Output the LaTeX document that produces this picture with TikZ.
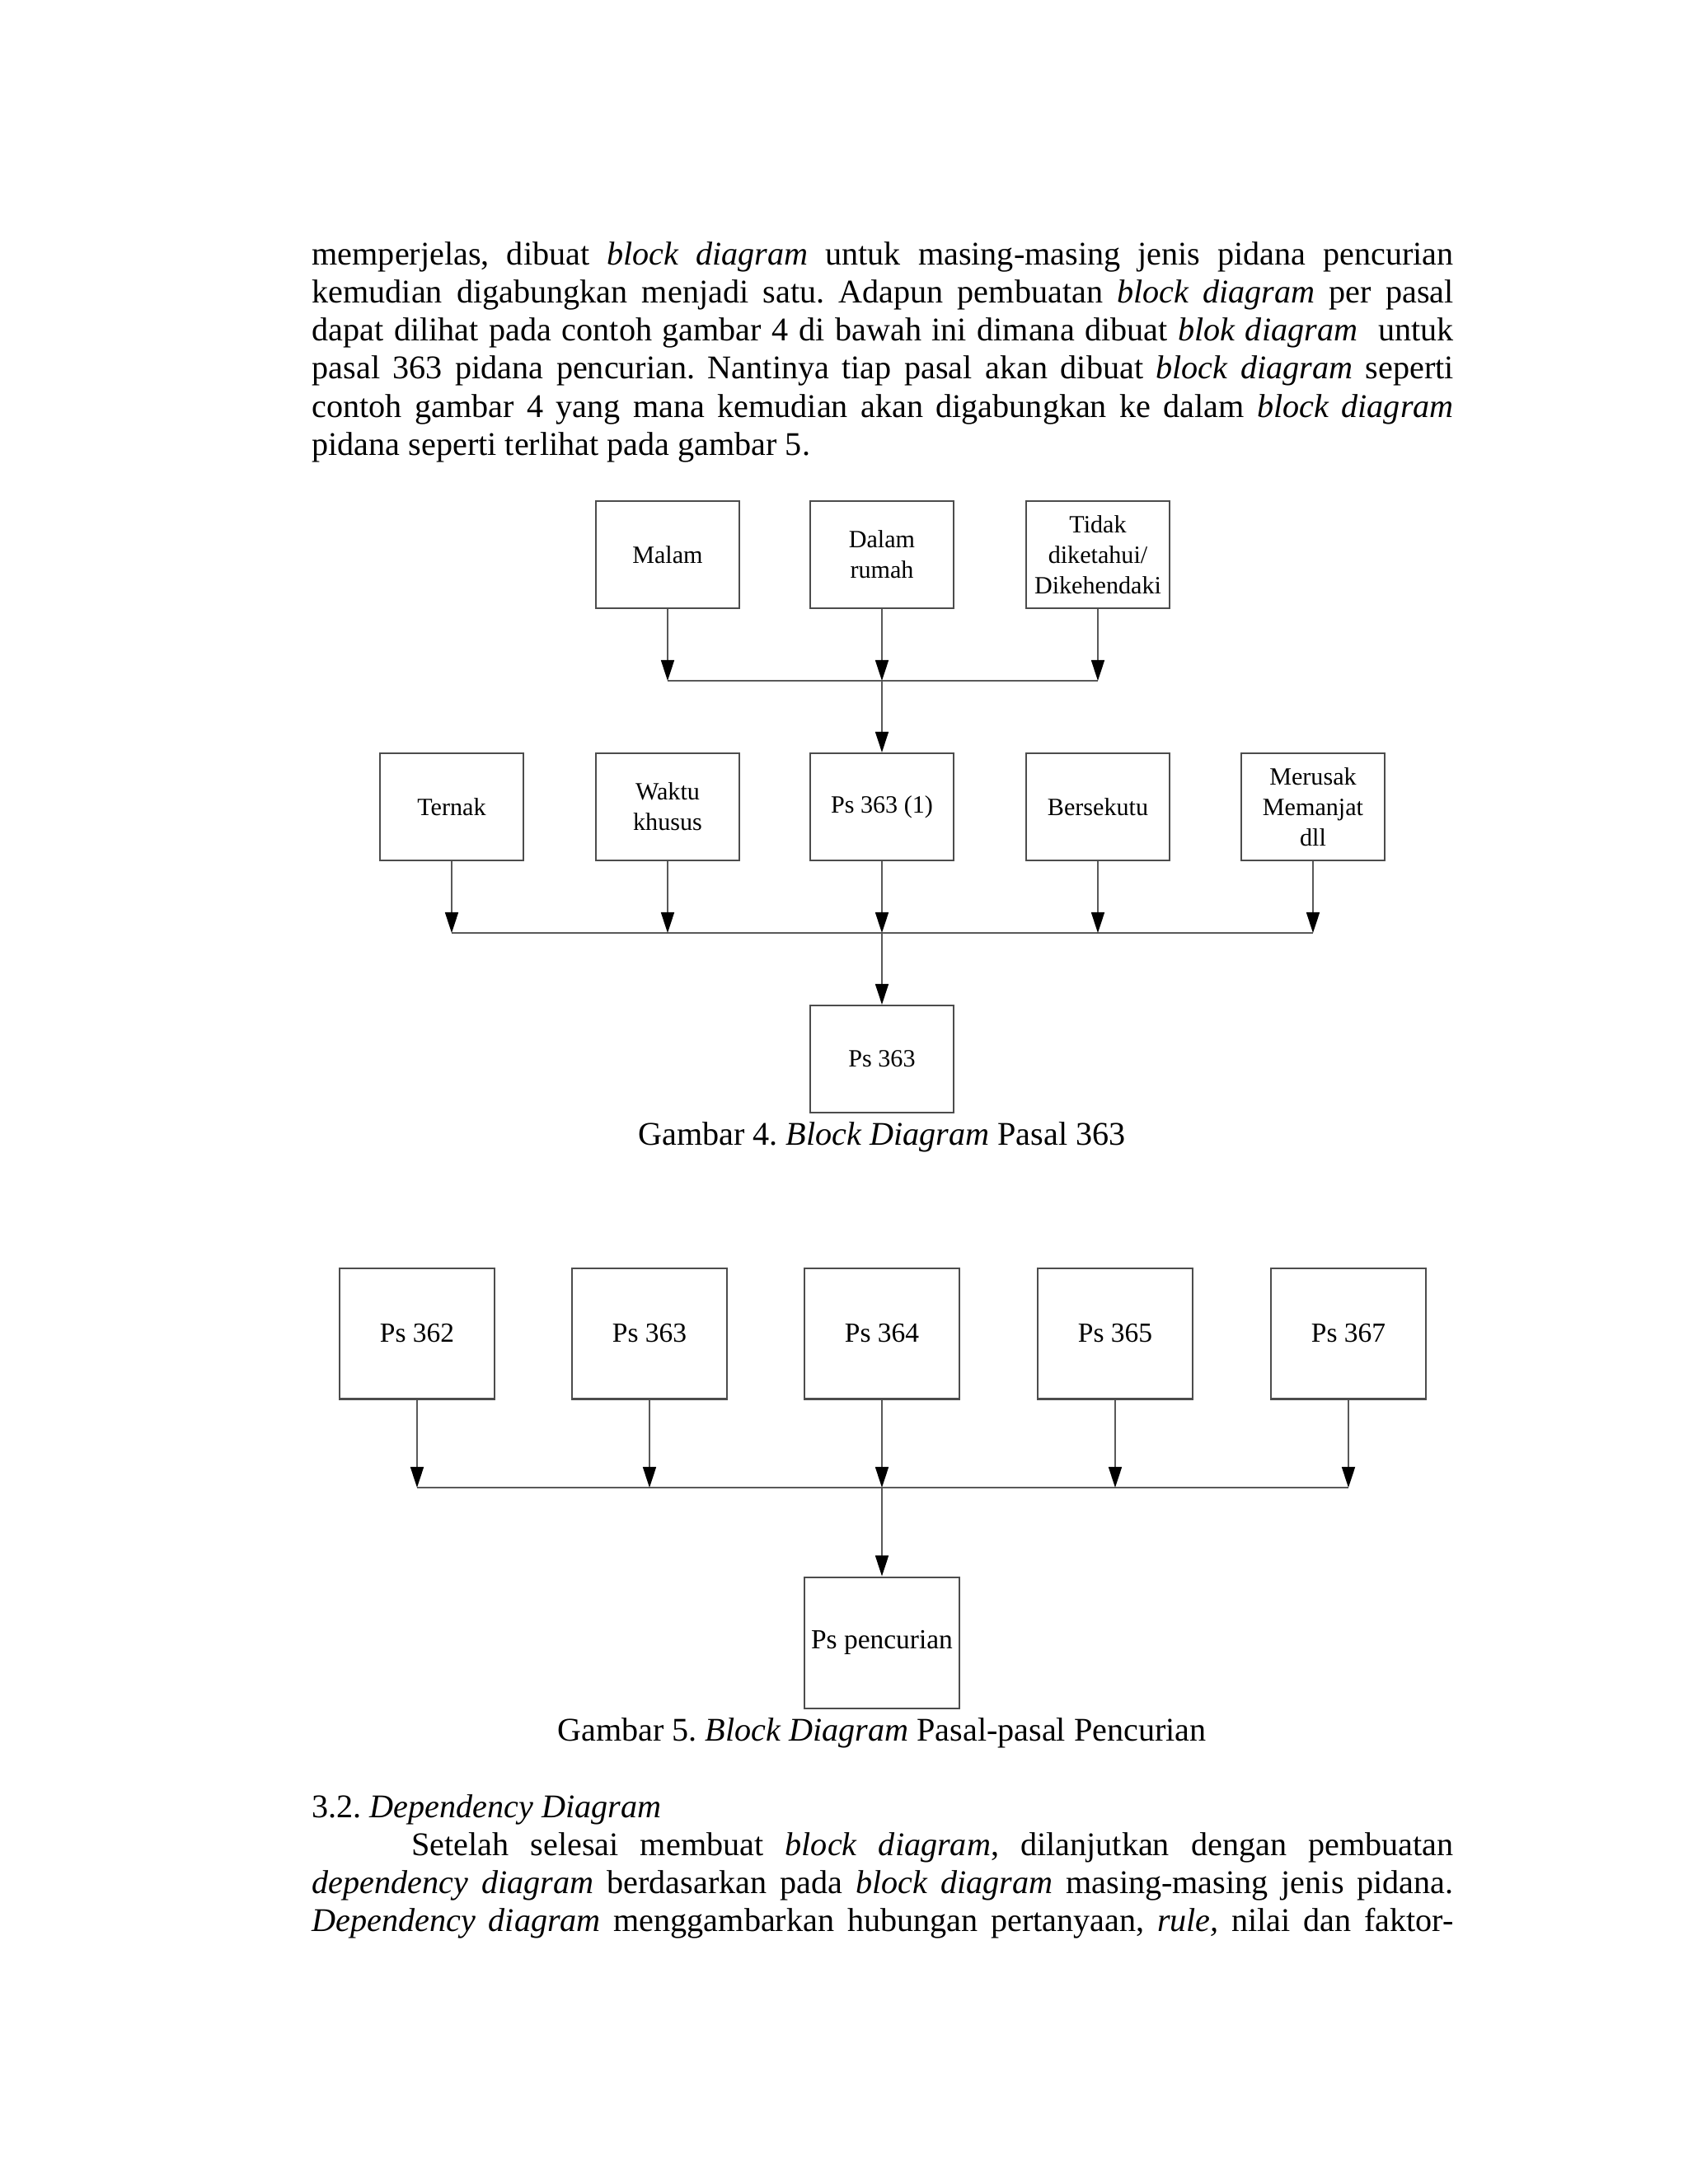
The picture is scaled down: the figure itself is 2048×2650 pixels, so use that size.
\documentclass[tikz,border=0pt]{standalone}
\usepackage{fontspec}
\setmainfont{Liberation Serif}
\usetikzlibrary{arrows.meta}
\frenchspacing

\begin{document}
\begin{tikzpicture}[x=0.29883pt, y=-0.29883pt]
    \tikzstyle{blok}=[rectangle, draw=black!70, line width=0.6pt, fill=white,
                      inner sep=1pt, align=center,
                      minimum width=52pt, minimum height=38.9pt,
                      font=\fontsize{9}{11}\selectfont]
    \tikzstyle{blokbesar}=[blok, minimum width=56.2pt, minimum height=47.5pt,
                      font=\fontsize{10}{12}\selectfont]
    \tikzstyle{teks}=[inner sep=0pt, text width=413.9pt, align=justify,
                      font=\fontsize{12}{13.84}\selectfont]
    \tikzstyle{keterangan}=[inner sep=0pt, font=\fontsize{12}{14}\selectfont]
    \tikzstyle{panah}=[draw=black!65, line width=0.45pt,
                       -{Triangle[length=7.5pt, width=4.8pt, color=black, fill=black]}]
    \tikzstyle{garis}=[draw=black!65, line width=0.45pt]

    \useasboundingbox (0,0) rectangle (2048,2650);

    % paragraf atas
    \node[teks, anchor=base west] (para1) at (378,321) {\tolerance=10000\hyphenpenalty=10000
        memperjelas, dibuat \emph{block diagram} untuk masing-masing jenis pidana pencurian\linebreak
        kemudian digabungkan menjadi satu. Adapun pembuatan \emph{block diagram} per pasal\linebreak
        dapat dilihat pada contoh gambar 4 di bawah ini dimana dibuat \emph{blok diagram}\ \ untuk\linebreak
        pasal 363 pidana pencurian. Nantinya tiap pasal akan dibuat \emph{block diagram} seperti\linebreak
        contoh gambar 4 yang mana kemudian akan digabungkan ke dalam \emph{block diagram}\linebreak
        pidana seperti terlihat pada gambar 5.};

    % gambar 4
    \node[blok] (malam) at (810,673) {Malam};
    \node[blok] (rumah) at (1070,673) {Dalam\\rumah};
    \node[blok] (tidak) at (1332,673) {Tidak\\diketahui/\\Dikehendaki};
    \coordinate (bus1) at (1070,826);

    \node[blok] (ternak) at (548,979) {Ternak};
    \node[blok] (waktu) at (810,979) {Waktu\\khusus};
    \node[blok] (ps1) at (1070,979) {Ps 363 (1)};
    \node[blok] (sekutu) at (1332,979) {Bersekutu};
    \node[blok] (rusak) at (1593,979) {Merusak\\Memanjat\\dll};
    \coordinate (bus2) at (1070,1132);

    \node[blok] (ps363) at (1070,1285) {Ps 363};
    \node[keterangan, anchor=base] (ket4) at (1070,1389)
        {Gambar 4. \emph{Block Diagram} Pasal 363};

    \draw[garis] (malam.south |- bus1) -- (tidak.south |- bus1);
    \draw[panah] (malam.south) -- (malam.south |- bus1);
    \draw[panah] (rumah.south) -- (bus1);
    \draw[panah] (tidak.south) -- (tidak.south |- bus1);
    \draw[panah] (bus1) -- (ps1.north);

    \draw[garis] (ternak.south |- bus2) -- (rusak.south |- bus2);
    \draw[panah] (ternak.south) -- (ternak.south |- bus2);
    \draw[panah] (waktu.south) -- (waktu.south |- bus2);
    \draw[panah] (ps1.south) -- (bus2);
    \draw[panah] (sekutu.south) -- (sekutu.south |- bus2);
    \draw[panah] (rusak.south) -- (rusak.south |- bus2);
    \draw[panah] (bus2) -- (ps363.north);

    % gambar 5
    \node[blokbesar] (p362) at (506,1618) {Ps 362};
    \node[blokbesar] (p363) at (788,1618) {Ps 363};
    \node[blokbesar] (p364) at (1070,1618) {Ps 364};
    \node[blokbesar] (p365) at (1353,1618) {Ps 365};
    \node[blokbesar] (p367) at (1636,1618) {Ps 367};
    \coordinate (bus3) at (1070,1805);
    \node[blokbesar] (curi) at (1070,1993) {Ps pencurian};
    \node[keterangan, anchor=base] (ket5) at (1070,2112)
        {Gambar 5. \emph{Block Diagram} Pasal-pasal Pencurian};

    \draw[garis] (p362.south |- bus3) -- (p367.south |- bus3);
    \draw[panah] (p362.south) -- (p362.south |- bus3);
    \draw[panah] (p363.south) -- (p363.south |- bus3);
    \draw[panah] (p364.south) -- (bus3);
    \draw[panah] (p365.south) -- (p365.south |- bus3);
    \draw[panah] (p367.south) -- (p367.south |- bus3);
    \draw[panah] (bus3) -- (curi.north);

    % paragraf bawah
    \node[teks, anchor=base west] (para2) at (378,2205) {\tolerance=10000\hyphenpenalty=10000
        \noindent 3.2. \emph{Dependency Diagram}\par
        \parindent=36pt
        Setelah selesai membuat \emph{block diagram}, dilanjutkan dengan pembuatan\linebreak
        \emph{dependency diagram} berdasarkan pada \emph{block diagram} masing-masing jenis pidana.\linebreak
        \emph{Dependency diagram} menggambarkan hubungan pertanyaan, \emph{rule,} nilai dan faktor-\linebreak};
\end{tikzpicture}
\end{document}
